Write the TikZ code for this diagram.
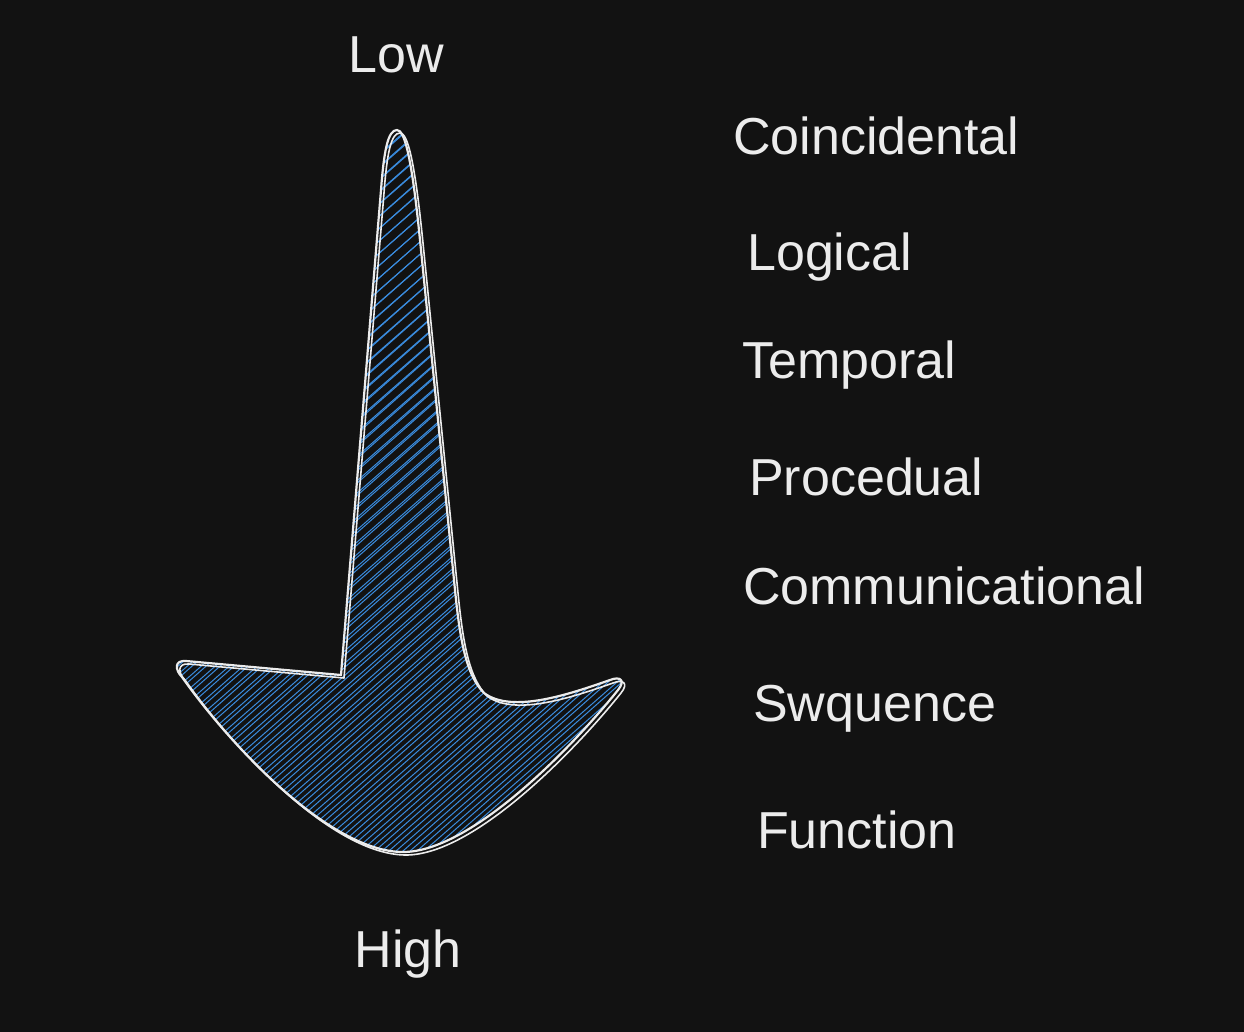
\documentclass[tikz,border=0pt]{standalone}
\usepackage{fontspec}
\setmainfont{Liberation Sans}
\definecolor{bgdark}{HTML}{121212}
\definecolor{chalk}{HTML}{ECECEC}
\definecolor{hatchblue}{RGB}{58,140,222}
% outline of the big arrow, in pixel coordinates
\newcommand{\cohesionarrow}{(341,675) -- (186,661)
  .. controls (174,660) and (175,670) .. (182,677)
  .. controls (230,745) and (330,852) .. (403,852)
  .. controls (470,852) and (570,750) .. (618,690)
  .. controls (626,680) and (620,676) .. (610,680)
  .. controls (570,694) and (512,714) .. (484,693)
  .. controls (466,675) and (460,640) .. (455,590)
  -- (420,240)
  .. controls (412,160) and (405,130) .. (397,130)
  .. controls (388,130) and (384,150) .. (381,190) -- cycle}
\tikzset{outline/.style = {draw=chalk, line width=2.2pt, line join=round},
         hatch/.style = {hatchblue, line width=1pt},
         level/.style = {text=chalk, font=\fontsize{52}{60}\selectfont,
                         anchor=base west, inner sep=0pt}}

\begin{document}
\begin{tikzpicture}[x=1pt, y=-1pt]
      \fill [bgdark] (0, 0) rectangle (1244, 1032);
      \useasboundingbox (0, 0) rectangle (1244, 1032);

      % sketchy hachure fill, every stroke drawn twice
      \begin{scope}
        \clip \cohesionarrow;
        \foreach \c in {-500,-486,...,400} {
          \draw [hatch] (\c, 900) -- ++(1000, -875);
          \draw [hatch] (\c+3, 904) -- ++(1000, -884);
        }
      \end{scope}
      \draw [outline] \cohesionarrow;
      \draw [outline, line width=1.6pt, xshift=3pt, yshift=-3pt] \cohesionarrow;

      \node [level, anchor=base] (low) at (396, 73) {Low};
      \node [level, anchor=base] (high) at (408, 967) {High};

      \node [level] (coincidental) at (733, 155) {Coincidental};
      \node [level] (logical) at (747, 271) {Logical};
      \node [level] (temporal) at (742, 378) {Temporal};
      \node [level] (procedual) at (749, 495) {Procedual};
      \node [level] (communicational) at (743, 604) {Communicational};
      \node [level] (swquence) at (753, 721) {Swquence};
      \node [level] (function) at (757, 848) {Function};
    \end{tikzpicture}
\end{document}
